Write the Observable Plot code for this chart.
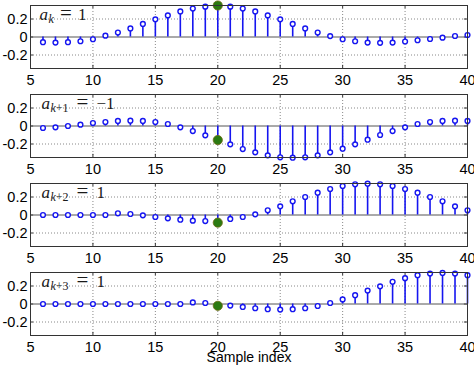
<!DOCTYPE html>
<html>
<head>
<meta charset="utf-8">
<script src="https://cdn.jsdelivr.net/npm/d3@7"></script>
<script src="https://cdn.jsdelivr.net/npm/@observablehq/plot@0.6"></script>
<style>
  body { margin: 0; background: white; }
  svg { display: block; }
</style>
</head>
<body>
<div id="chart"></div>
<script>
const sampleIndex = d3.range(6, 41);
const xTicks = [5, 10, 15, 20, 25, 30, 35, 40];
const yTicks = [-0.2, 0, 0.2];
const markerIndex = 20;

const subscripts = ["k", "k+1", "k+2", "k+3"];
const symbolValues = ["1", "\u22121", "1", "1"];

const series1 = [-0.058, -0.062, -0.058, -0.047, -0.025, 0.015, 0.05, 0.095, 0.145, 0.196, 0.24, 0.284, 0.316, 0.337, 0.35, 0.337, 0.316, 0.284, 0.24, 0.196, 0.145, 0.095, 0.05, 0.01, -0.025, -0.047, -0.062, -0.065, -0.062, -0.05, -0.036, -0.022, -0.007, 0.011, 0.022];
const series2 = [-0.022, -0.015, 0, 0.015, 0.033, 0.044, 0.056, 0.059, 0.056, 0.044, 0.022, -0.015, -0.056, -0.104, -0.156, -0.204, -0.256, -0.293, -0.326, -0.348, -0.352, -0.348, -0.326, -0.293, -0.252, -0.204, -0.152, -0.1, -0.056, -0.015, 0.022, 0.044, 0.056, 0.059, 0.056];
const series3 = [0, 0, 0, 0, 0, 0, 0.019, 0.011, -0.004, -0.022, -0.037, -0.052, -0.063, -0.067, -0.085, -0.044, -0.022, 0.007, 0.052, 0.096, 0.152, 0.2, 0.248, 0.289, 0.322, 0.341, 0.348, 0.341, 0.322, 0.289, 0.248, 0.2, 0.152, 0.096, 0.052];
const series4 = [0, 0, 0, 0, 0, 0, 0, 0, 0, 0, 0, 0, 0.018, 0.011, -0.02, -0.018, -0.033, -0.047, -0.058, -0.062, -0.058, -0.047, -0.022, 0.011, 0.051, 0.098, 0.149, 0.196, 0.247, 0.287, 0.32, 0.338, 0.345, 0.338, 0.32];

const allSeries = [series1, series2, series3, series4];
const xLabel = "Sample index";

const container = document.getElementById("chart");
const yDomain = [-0.35, 0.35];
const xDomain = [5, 40];

allSeries.forEach((vals, k) => {
  const isLast = k === allSeries.length - 1;
  const data = sampleIndex.map((x, i) => ({x, y: vals[i]}));
  const green = data.filter(d => d.x === markerIndex);
  const blue = data.filter(d => d.x !== markerIndex);
  const marginTop = 5, marginBottom = isLast ? 34 : 21;
  const plot = Plot.plot({
    width: 474,
    height: isLast ? 102 : 89,
    marginLeft: 30,
    marginRight: 7,
    marginTop,
    marginBottom,
    style: {fontFamily: "'Liberation Sans', Arial, sans-serif", fontSize: "14.5px", color: "#000", background: "white", overflow: "visible"},
    x: {domain: xDomain, ticks: xTicks, tickSize: 0, tickPadding: 6, label: null},
    y: {domain: yDomain, ticks: yTicks, tickSize: 0, tickPadding: 3, label: null,
        tickFormat: d => d === 0 ? "0" : String(d)},
    marks: [
      Plot.gridX(xTicks.slice(1, -1), {stroke: "#888", strokeOpacity: 1, strokeDasharray: "1,2"}),
      Plot.gridY([-0.2, 0.2], {stroke: "#888", strokeOpacity: 1, strokeDasharray: "1,2"}),
      Plot.ruleX(xTicks, {y1: yDomain[0], y2: yDomain[0] + 0.035, stroke: "#333"}),
      Plot.ruleX(xTicks, {y1: yDomain[1], y2: yDomain[1] - 0.035, stroke: "#333"}),
      Plot.ruleY(yTicks, {x1: xDomain[0], x2: xDomain[0] + 0.25, stroke: "#333"}),
      Plot.ruleY(yTicks, {x1: xDomain[1], x2: xDomain[1] - 0.25, stroke: "#333"}),
      Plot.ruleY([0], {stroke: "#555", strokeWidth: 1}),
      Plot.ruleX(data, {x: "x", y1: 0, y2: "y", stroke: "#1515f0", strokeWidth: 1.6}),
      Plot.dot(blue, {x: "x", y: "y", r: 2.4, stroke: "#1515f0", strokeWidth: 1.4, fill: "white"}),
      Plot.dot(green, {x: "x", y: "y", r: 4.6, fill: "#2b7a12", stroke: "#6b6a10", strokeWidth: 0.8}),
      Plot.frame({stroke: "#333", strokeWidth: 1}),
      ...(isLast ? [Plot.text([xLabel], {frameAnchor: "bottom", dy: 26, fontSize: 14, fill: "#000"})] : [])
    ]
  });
  const svg = d3.select(plot);
  const ax = k === 0 ? 39.5 : 41.5;
  const eqx = k === 0 ? 60 : 76.5;
  const vx = k === 0 ? 78 : 96.5;
  const t = svg.append("text")
    .attr("y", marginTop + 14.8)
    .attr("text-anchor", "start")
    .attr("font-family", "'Liberation Serif', 'DejaVu Serif', serif")
    .attr("font-size", 17).attr("fill", "#1a1a1a");
  t.append("tspan").attr("x", ax).attr("font-style", "italic").text("a");
  const sub = subscripts[k];
  t.append("tspan").attr("font-style", "italic").attr("font-size", 12).attr("dx", 0.5).attr("dy", 3.5).text(sub[0]);
  if (sub.length > 1) t.append("tspan").attr("font-size", 12).text(sub.slice(1));
  t.append("tspan").attr("x", eqx).attr("dy", -3.5).attr("font-size", 21).text("=");
  t.append("tspan").attr("x", vx).text(symbolValues[k]);
  container.appendChild(plot);
});
</script>
</body>
</html>
